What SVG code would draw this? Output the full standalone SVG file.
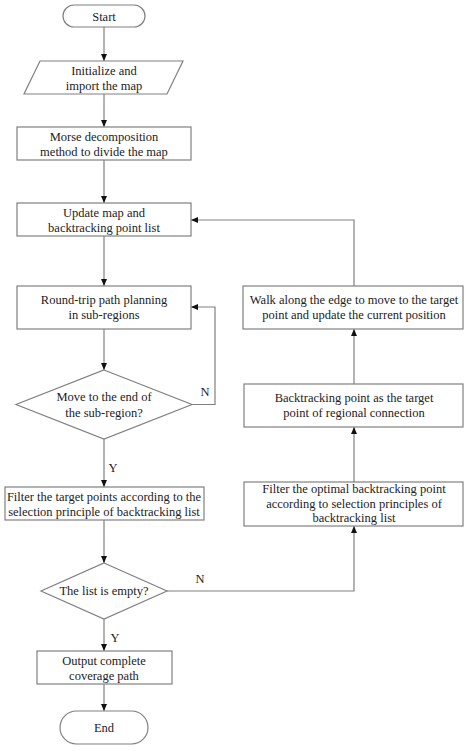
<svg xmlns="http://www.w3.org/2000/svg" width="474" height="751" viewBox="0 0 474 751" font-family="'Liberation Serif', 'Times New Roman', 'DejaVu Serif', serif">
<defs>
<marker id="ah" markerWidth="8" markerHeight="8" refX="7" refY="4" orient="auto" markerUnits="userSpaceOnUse">
<path d="M0,1 L7,4 L0,7 Z" fill="#111"/>
</marker>
<style>
.s{fill:#fff;stroke:#808080;stroke-width:1.2}
.c{fill:none;stroke:#808080;stroke-width:1.2;marker-end:url(#ah)}
text{font-family:'Liberation Serif','Times New Roman',serif;font-size:12.5px;fill:#222;text-anchor:middle}
</style>
</defs>
<rect width="474" height="751" fill="#fff"/>
<g id="connectors">
<line class="c" x1="104" y1="27" x2="104" y2="61"/>
<line class="c" x1="104" y1="94" x2="104" y2="127"/>
<line class="c" x1="104" y1="160" x2="104" y2="203"/>
<line class="c" x1="104" y1="236" x2="104" y2="286"/>
<line class="c" x1="104" y1="329" x2="104" y2="370"/>
<polyline class="c" points="192,404.5 215,404.5 215,307 191,307"/>
<line class="c" x1="104" y1="439" x2="104" y2="487"/>
<line class="c" x1="104" y1="520" x2="104" y2="563"/>
<polyline class="c" points="167,591 354,591 354,526"/>
<line class="c" x1="354" y1="482" x2="354" y2="427"/>
<line class="c" x1="354" y1="384" x2="354" y2="329"/>
<polyline class="c" points="354,286 354,220 191,220"/>
<line class="c" x1="104" y1="619" x2="104" y2="651"/>
<line class="c" x1="104" y1="684" x2="104" y2="711"/>
<text x="205" y="396">N</text>
<text x="113" y="472">Y</text>
<text x="200" y="583">N</text>
<text x="115" y="642">Y</text>
</g>
<g id="start">
<rect class="s" x="63" y="5" width="82" height="22" rx="11"/>
<text x="104" y="21">Start</text>
</g>
<g id="init">
<polygon class="s" points="40,61 183,61 167,94 24,94"/>
<text x="104" y="75">Initialize and</text>
<text x="104" y="90">import the map</text>
</g>
<g id="morse">
<rect class="s" x="17" y="127" width="174" height="33"/>
<text x="104" y="141">Morse decomposition</text>
<text x="104" y="156">method to divide the map</text>
</g>
<g id="update">
<rect class="s" x="17" y="203" width="174" height="33"/>
<text x="104" y="217">Update map and</text>
<text x="104" y="232">backtracking point list</text>
</g>
<g id="roundtrip">
<rect class="s" x="17" y="286" width="174" height="43"/>
<text x="104" y="304">Round-trip path planning</text>
<text x="104" y="319">in sub-regions</text>
</g>
<g id="decision1">
<polygon class="s" points="104,370 192,404.5 104,439 16,404.5"/>
<text x="104" y="401">Move to the end of</text>
<text x="104" y="417">the sub-region?</text>
</g>
<g id="filter">
<rect class="s" x="5" y="487" width="199" height="33"/>
<text x="104" y="501">Filter the target points according to the</text>
<text x="104" y="516">selection principle of backtracking list</text>
</g>
<g id="decision2">
<polygon class="s" points="104,563 167,591 104,619 41,591"/>
<text x="104" y="595">The list is empty?</text>
</g>
<g id="output">
<rect class="s" x="37" y="651" width="135" height="33"/>
<text x="104" y="665">Output complete</text>
<text x="104" y="680">coverage path</text>
</g>
<g id="end">
<rect class="s" x="60" y="711" width="88" height="33" rx="16.5"/>
<text x="104" y="732">End</text>
</g>
<g id="walk">
<rect class="s" x="243" y="286" width="220" height="43"/>
<text x="354" y="304">Walk along the edge to move to the target</text>
<text x="354" y="319">point and update the current position</text>
</g>
<g id="backtrack">
<rect class="s" x="244" y="384" width="219" height="43"/>
<text x="354" y="402">Backtracking point as the target</text>
<text x="354" y="417">point of regional connection</text>
</g>
<g id="optimal">
<rect class="s" x="244" y="482" width="219" height="44"/>
<text x="354" y="493">Filter the optimal backtracking point</text>
<text x="354" y="508">according to selection principles of</text>
<text x="354" y="522">backtracking list</text>
</g>
</svg>
